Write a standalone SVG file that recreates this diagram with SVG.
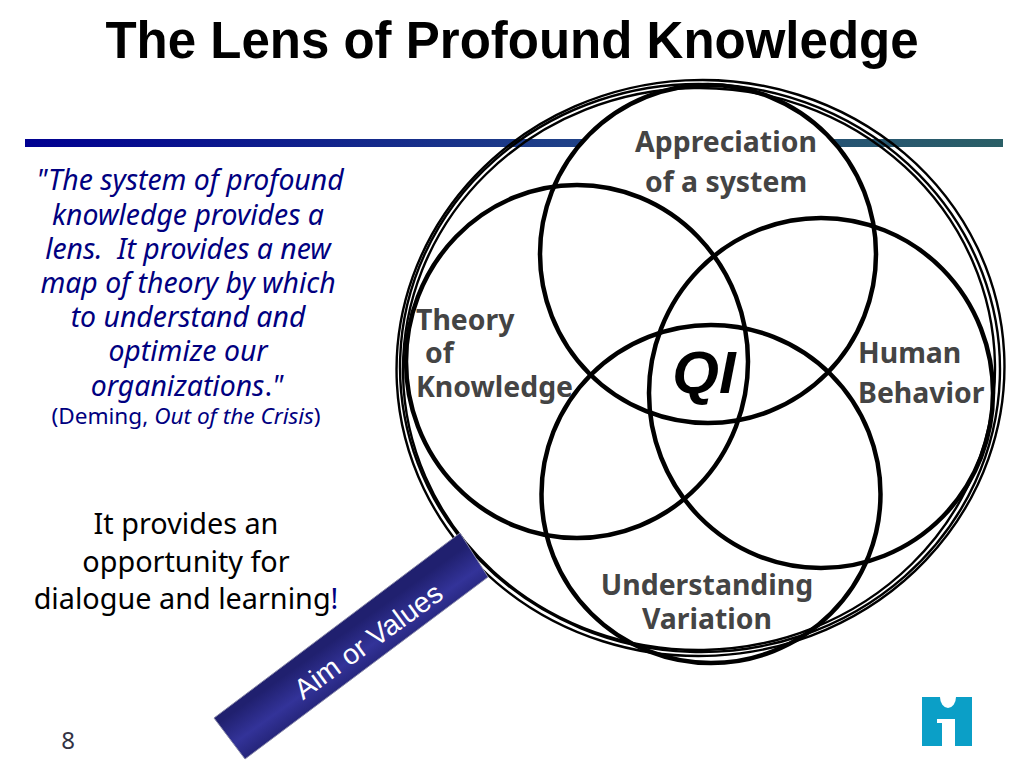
<svg xmlns="http://www.w3.org/2000/svg" width="1024" height="768" viewBox="0 0 1024 768">
<style>
text{font-family:"Noto Sans","DejaVu Sans",sans-serif}
.q{font-size:28.4px;font-style:italic;fill:#000080;text-anchor:middle}
.b{font-size:28.8px;fill:#000;text-anchor:middle}
.l{font-size:28.4px;font-weight:700;fill:#444}
.c{fill:none;stroke:#000;stroke-width:4.5}
.o{fill:none;stroke:#000;stroke-width:2.4}
</style>
<defs>
<linearGradient id="bar" x1="0" x2="1" y1="0" y2="0"><stop offset="0" stop-color="#000091"/><stop offset="0.55" stop-color="#1f4088"/><stop offset="1" stop-color="#2a5f66"/></linearGradient>
<linearGradient id="h" gradientUnits="userSpaceOnUse" x1="337" y1="638" x2="367" y2="680"><stop offset="0" stop-color="#20206f"/><stop offset="0.5" stop-color="#333399"/><stop offset="1" stop-color="#20206f"/></linearGradient>
</defs>
<rect width="1024" height="768" fill="#fff"/>
<text id="title" x="512" y="58" text-anchor="middle" style="font-family:'Liberation Sans',Arial,sans-serif;font-size:51px;font-weight:700">The Lens of Profound Knowledge</text>
<rect id="rule" x="25" y="139" width="978" height="8" fill="url(#bar)"/>
<g id="quote">
<text class="q" x="190" y="190">"The system of profound</text>
<text class="q" x="188" y="225">knowledge provides a</text>
<text class="q" x="188" y="259">lens.&#160; It provides a new</text>
<text class="q" x="188" y="293">map of theory by which</text>
<text class="q" x="188" y="327">to understand and</text>
<text class="q" x="188" y="361">optimize our</text>
<text class="q" x="187" y="396">organizations<tspan font-style="normal">.</tspan>"</text>
<text x="186" y="424" text-anchor="middle" fill="#000080" font-size="22.6">(Deming, <tspan font-style="italic">Out of the Crisis</tspan>)</text>
</g>
<g id="body">
<text class="b" x="186" y="534">It provides an</text>
<text class="b" x="186" y="572">opportunity for</text>
<text class="b" x="186" y="609">dialogue and learning<tspan fill="#000080">!</tspan></text>
</g>
<ellipse id="top-fill" cx="708" cy="254" rx="168" ry="169" fill="#fff"/>
<g id="lens">
<ellipse class="o" cx="700.5" cy="368" rx="304" ry="288" transform="rotate(-3 700.5 368)"/>
<ellipse class="o" cx="700" cy="368" rx="300" ry="284" transform="rotate(2 700 368)"/>
<ellipse class="o" cx="699" cy="369" rx="296" ry="281" transform="rotate(-1 699 369)"/>
</g>
<g id="connectors">
<ellipse class="c" id="top" cx="708" cy="254" rx="168" ry="169"/>
<ellipse class="c" id="left" cx="577" cy="361.500" rx="171" ry="176.500"/>
<ellipse class="c" id="right" cx="821" cy="393" rx="172" ry="175"/>
<ellipse class="c" id="bottom" cx="711" cy="494" rx="169.500" ry="169"/>
</g>
<g id="labels">
<text class="l" x="726" y="152" text-anchor="middle">Appreciation</text>
<text class="l" x="726" y="192" text-anchor="middle">of a system</text>
<text class="l" x="416" y="330">Theory</text>
<text class="l" x="425" y="363">of</text>
<text class="l" x="416" y="397">Knowledge</text>
<text class="l" x="858" y="363">Human</text>
<text class="l" x="858" y="403">Behavior</text>
<text class="l" x="707" y="595" text-anchor="middle">Understanding</text>
<text class="l" x="707" y="629" text-anchor="middle">Variation</text>
<text x="704" y="393" text-anchor="middle" style="font-family:'Liberation Sans',Arial,sans-serif;font-size:60px;font-weight:700;font-style:italic">QI</text>
</g>
<g id="handle">
<polygon points="460,533 488,577 245,759 214,718" fill="url(#h)" stroke="#8888a8" stroke-width="1"/>
<text transform="translate(374,649) rotate(-36)" text-anchor="middle" fill="#fff" style="font-family:'Liberation Sans',Arial,sans-serif;font-size:28.500px">Aim or Values</text>
</g>
<text id="page" x="68" y="749" text-anchor="middle" fill="#334" font-size="24">8</text>
<g id="logo">
<rect x="922" y="697" width="50" height="49" fill="#0b9fc7"/>
<path d="M940 697a8 11 0 0 0 16 0z" fill="#fff"/>
<path d="M937 719h18v27h-13v-23h-5z" fill="#fff"/>
</g>
</svg>
